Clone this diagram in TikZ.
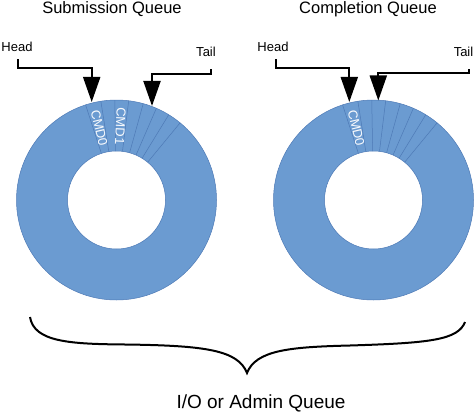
\documentclass[tikz,border=0pt]{standalone}
\usepackage{fontspec}
\setmainfont{Liberation Sans}
\usetikzlibrary{arrows.meta}
\definecolor{ringblue}{RGB}{107,155,209}
\definecolor{ringedge}{RGB}{78,122,182}
\begin{document}
\begin{tikzpicture}[x=1pt,y=-1pt,
  ptr/.style={line width=2pt, -{Triangle[width=17pt,length=25pt]}},
  lbl/.style={font=\fontsize{13}{15}\selectfont, inner sep=0pt, anchor=base},
  ttl/.style={font=\fontsize{16.5}{19}\selectfont, inner sep=0pt, anchor=base},
  cmd/.style={font=\fontsize{13}{15}\selectfont, text=white!95!ringblue, inner sep=0pt},
  ring/.style={fill=ringblue, draw=ringedge, line width=0.5pt, even odd rule},
  slice/.style={draw=ringedge, line width=0.5pt},
  brace/.style={line width=2pt}]
\useasboundingbox (0,0) rectangle (474,412);

% rings
\foreach \cx/\nm in {116.5/L, 373.5/R} {
  \coordinate (c\nm) at (\cx,200);
  \path[ring] (c\nm) circle[radius=100pt] (c\nm) circle[radius=49pt];
  \foreach \t in {-18,-9,-1,7,15.5,23.5,31.5,39.5}
    \draw[slice] ({\cx+49*sin(\t)},{200-49*cos(\t)}) -- ({\cx+100*sin(\t)},{200-100*cos(\t)});
}

% slice labels
\node[cmd, rotate=-76.5] (cmd0L) at ({116.5+74*sin(-13.5)},{200-74*cos(-13.5)}) {CMD0};
\node[cmd, rotate=-93] (cmd1L) at ({116.5+74*sin(3)},{200-74*cos(3)}) {CMD1};
\node[cmd, rotate=-76.5] (cmd0R) at ({373.5+74*sin(-13.5)},{200-74*cos(-13.5)}) {CMD0};

% titles
\node[ttl] (sq) at (112,13.5) {Submission Queue};
\node[ttl] (cq) at (368,13.5) {Completion Queue};

% labels
\node[lbl] (headL) at (17,52) {Head};
\node[lbl] (tailL) at (206,57) {Tail};
\node[lbl] (headR) at (273,52) {Head};
\node[lbl] (tailR) at (463.5,57) {Tail};

% pointers
\coordinate (hL0) at (18.3,59.3);  \coordinate (hL1) at (91.7,102);
\coordinate (tL0) at (211,69.3);   \coordinate (tL1) at (152,106);
\coordinate (hR0) at (276,59.3);   \coordinate (hR1) at (349.3,102);
\coordinate (tR0) at (469.3,69.3); \coordinate (tR1) at (378.3,100.5);
\draw[ptr] (hL0) -- ++(0,9) -| (hL1);
\draw[ptr] (tL0) -- ++(0,5) -| (tL1);
\draw[ptr] (hR0) -- ++(0,9) -| (hR1);
\draw[ptr] (tR0) -- ++(0,4.2) -| (tR1);

% brace
\draw[brace] (30,317) .. controls (34,342) and (70,344) .. (125,344.5)
  .. controls (205,345.5) and (238,350) .. (247,373)
  .. controls (256,350) and (290,347) .. (350,345.5)
  .. controls (430,343) and (458,340) .. (465,322);

\node[ttl, font=\fontsize{19}{22}\selectfont] (ioq) at (261,408) {I/O or Admin Queue};
\end{tikzpicture}
\end{document}
